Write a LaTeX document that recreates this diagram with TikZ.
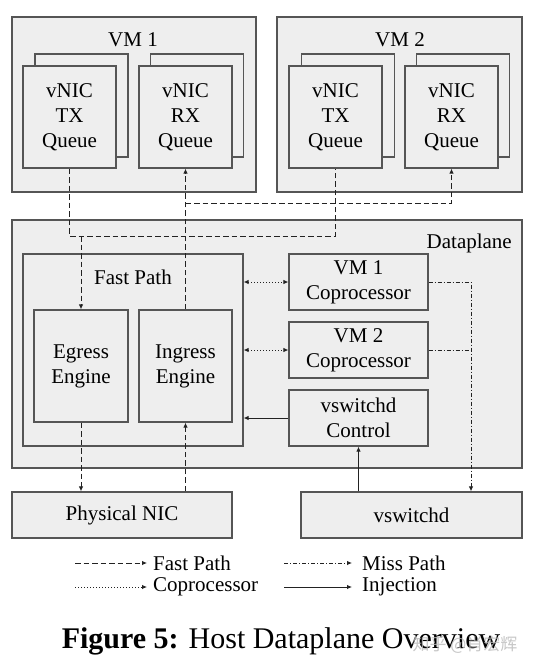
\documentclass[tikz,border=0pt]{standalone}
\usepackage{fontspec}
\setmainfont{Liberation Serif}
\newfontfamily\cjk{Noto Sans CJK SC}
\usetikzlibrary{arrows.meta}
\definecolor{boxfill}{HTML}{EEEEEE}
\definecolor{boxline}{HTML}{555555}
\definecolor{linecol}{HTML}{222222}
\begin{document}
\begin{tikzpicture}[x=1pt,y=-1pt,
  box/.style={draw=boxline,fill=boxfill,line width=1.3pt,inner sep=0pt,align=center,
    font=\fontsize{21}{25}\selectfont},
  lbl/.style={inner sep=0pt,font=\fontsize{21}{25}\selectfont,text=black},
  conn/.style={draw=linecol,line width=0.9pt},
  tip/.style={-{Latex[length=5pt,width=4.5pt]}},
  twotip/.style={{Latex[length=5pt,width=4.5pt]}-{Latex[length=5pt,width=4.5pt]}},
  fastp/.style={conn,dash pattern=on 5.5pt off 3pt},
  copr/.style={conn,dash pattern=on 1pt off 2pt},
  missp/.style={conn,dash pattern=on 4pt off 2pt on 1pt off 2pt},
  injp/.style={conn}
]
\useasboundingbox (0,0) rectangle (537,667);
\fill[white] (0,0) rectangle (537,667);

% VM 1
\node[box,minimum width=244pt,minimum height=175pt] (vm1) at (134,104.5) {};
\node[lbl] (vm1l) at (133,40) {VM 1};
\node[box,minimum width=93pt,minimum height=103pt] (tx1b) at (81.5,105.5) {};
\node[box,minimum width=93pt,minimum height=102pt] (tx1) at (69.5,117) {vNIC\\TX\\Queue};
\node[box,minimum width=93pt,minimum height=103pt] (rx1b) at (197,105.5) {};
\node[box,minimum width=93pt,minimum height=102pt] (rx1) at (185.5,117) {vNIC\\RX\\Queue};

% VM 2
\node[box,minimum width=245pt,minimum height=175pt] (vm2) at (399.5,104.5) {};
\node[lbl] (vm2l) at (400,40) {VM 2};
\node[box,minimum width=93pt,minimum height=103pt] (tx2b) at (348,105.5) {};
\node[box,minimum width=93pt,minimum height=102pt] (tx2) at (335.5,117) {vNIC\\TX\\Queue};
\node[box,minimum width=93pt,minimum height=103pt] (rx2b) at (463,105.5) {};
\node[box,minimum width=93pt,minimum height=102pt] (rx2) at (451.5,117) {vNIC\\RX\\Queue};

% Dataplane
\node[box,minimum width=510pt,minimum height=248pt] (dp) at (267,344) {};
\node[lbl,anchor=east] (dpl) at (512,243) {Dataplane};
\node[box,minimum width=220pt,minimum height=192pt] (fp) at (133,350) {};
\node[lbl] (fpl) at (133,277) {Fast Path};
\node[box,minimum width=94pt,minimum height=112pt] (eg) at (81,366) {Egress\\Engine};
\node[box,minimum width=93pt,minimum height=112pt] (ig) at (185.5,366) {Ingress\\Engine};
\node[box,minimum width=139pt,minimum height=56pt] (cp1) at (358.5,282) {VM 1\\Coprocessor};
\node[box,minimum width=139pt,minimum height=56pt] (cp2) at (358.5,350) {VM 2\\Coprocessor};
\node[box,minimum width=139pt,minimum height=56pt] (ctl) at (358.5,418) {vswitchd\\Control};

% bottom boxes
\node[box,minimum width=220pt,minimum height=46pt] (pnic) at (122,515) {Physical NIC};
\node[box,minimum width=221pt,minimum height=46pt] (vsd) at (411.5,515) {vswitchd};

% helper coordinates
\coordinate (jt) at (0,236);
\coordinate (jr) at (0,203);
\coordinate (mx) at (471,0);

% fast path: egress
\draw[fastp] (tx1.south) -- (tx1.south |- jt) -- (tx2.south |- jt) -- (tx2.south);
\draw[fastp,tip] (eg.north |- jt) -- (eg.north);
\draw[fastp,tip] (eg.south) -- (eg.south |- pnic.north);
% fast path: ingress
\draw[fastp,tip] (ig.south |- pnic.north) -- (ig.south);
\draw[fastp,tip] (ig.north) -- (rx1.south);
\draw[fastp,tip] (ig.north |- jr) -- (rx2.south |- jr) -- (rx2.south);

% coprocessor
\draw[copr,twotip] (cp1.west -| fp.east) -- (cp1.west);
\draw[copr,twotip] (cp2.west -| fp.east) -- (cp2.west);

% injection
\draw[injp,tip] (ctl.west) -- (ctl.west -| fp.east);
\draw[injp,tip] (ctl.south |- vsd.north) -- (ctl.south);

% miss path
\draw[missp] (cp2.east) -- (cp2.east -| mx);
\draw[missp,tip] (cp1.east) -- (cp1.east -| mx) -- (mx |- vsd.north);

% legend
\coordinate (l1a) at (75,563); \coordinate (l1b) at (147,563);
\coordinate (l2a) at (75,587); \coordinate (l2b) at (147,587);
\coordinate (l3a) at (284,563); \coordinate (l3b) at (352,563);
\coordinate (l4a) at (284,587); \coordinate (l4b) at (352,587);
\draw[fastp,tip] (l1a) -- (l1b);
\draw[copr,tip] (l2a) -- (l2b);
\draw[missp,tip] (l3a) -- (l3b);
\draw[injp,tip] (l4a) -- (l4b);
\node[lbl,anchor=west] (t1) at (153,563) {Fast Path};
\node[lbl,anchor=west] (t2) at (153,587) {Coprocessor};
\node[lbl,anchor=west] (t3) at (362,563) {Miss Path};
\node[lbl,anchor=west] (t4) at (362,587) {Injection};

% caption
\node[inner sep=0pt,anchor=base,font=\fontsize{30}{33}\selectfont] (cap) at (281,648)
  {\textbf{Figure 5:} Host Dataplane Overview};
\node[inner sep=0pt,font=\cjk\fontsize{17}{20}\selectfont,text=gray!55,opacity=0.8] (wm) at (465,645) {知乎 @肖宏辉};
\end{tikzpicture}
\end{document}
